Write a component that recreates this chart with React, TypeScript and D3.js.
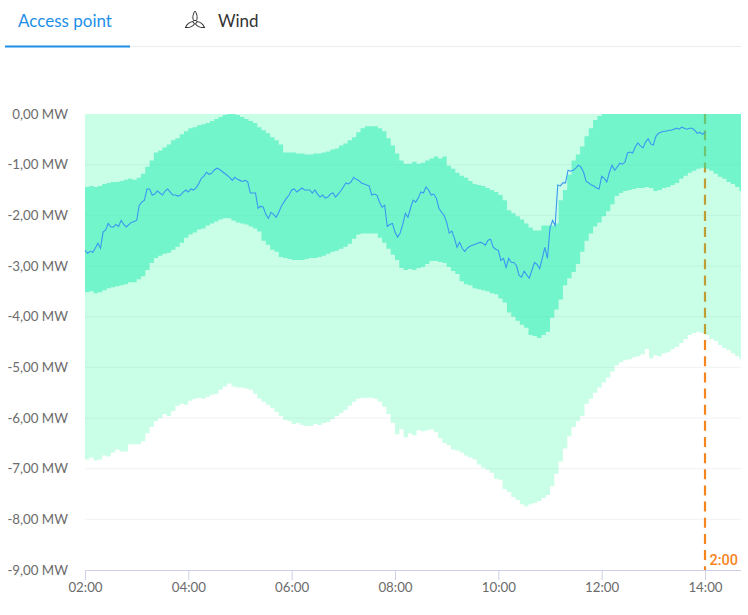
import { useEffect, useRef } from 'react';
import * as d3 from 'd3';

const WIDTH = 748;
const HEIGHT = 615;

const tabs = ['Access point', 'Wind'];
const markerLabel = '2:00';
const yTicks = [0, -1, -2, -3, -4, -5, -6, -7, -8, -9];
const xTicks = [2, 4, 6, 8, 10, 12, 14];

// forecast bands, one value every 5 minutes from 02:00
const innerTop = [
  -1.44, -1.42, -1.44, -1.42, -1.38, -1.36, -1.34, -1.34, -1.32, -1.3, -1.28, -1.3,
  -1.26, -1.18, -1.04, -0.92, -0.76, -0.72, -0.66, -0.6, -0.52, -0.48, -0.4, -0.34,
  -0.28, -0.26, -0.22, -0.2, -0.18, -0.14, -0.1, -0.06, -0.02, 0, 0, -0.02,
  -0.06, -0.1, -0.14, -0.18, -0.26, -0.32, -0.38, -0.46, -0.52, -0.6, -0.76, -0.76,
  -0.76, -0.78, -0.78, -0.8, -0.8, -0.78, -0.78, -0.76, -0.74, -0.7, -0.68, -0.62,
  -0.58, -0.52, -0.46, -0.36, -0.28, -0.24, -0.24, -0.24, -0.28, -0.34, -0.48, -0.62,
  -0.78, -0.92, -0.98, -0.98, -0.94, -0.98, -0.96, -0.92, -0.88, -0.84, -0.88, -0.84,
  -1.02, -1.08, -1.16, -1.22, -1.26, -1.32, -1.38, -1.4, -1.42, -1.46, -1.5, -1.54,
  -1.6, -1.7, -1.9, -1.96, -2.02, -2.08, -2.16, -2.24, -2.3, -2.3, -2.2, -2.2,
  -2.2, -2.16, -1.7, -1.5, -1.2, -0.92, -0.8, -0.64, -0.44, -0.28, -0.12, -0.04,
  0, 0, 0, 0, 0, 0, 0, 0, 0, 0, 0, 0,
  0, 0, 0, 0, 0, 0, 0, 0, 0, 0, 0, 0,
  0, 0, 0, 0, 0, 0, 0, 0, 0, 0,
];

const innerBottom = [
  -3.52, -3.5, -3.54, -3.52, -3.48, -3.44, -3.42, -3.4, -3.38, -3.36, -3.32, -3.32,
  -3.26, -3.2, -3.08, -2.94, -2.84, -2.8, -2.76, -2.74, -2.68, -2.62, -2.54, -2.44,
  -2.38, -2.34, -2.28, -2.26, -2.2, -2.16, -2.12, -2.08, -2.06, -2.06, -2.1, -2.14,
  -2.16, -2.18, -2.22, -2.26, -2.32, -2.5, -2.58, -2.68, -2.72, -2.82, -2.84, -2.86,
  -2.88, -2.88, -2.88, -2.86, -2.84, -2.84, -2.82, -2.8, -2.76, -2.72, -2.7, -2.66,
  -2.62, -2.56, -2.46, -2.38, -2.36, -2.36, -2.36, -2.36, -2.44, -2.54, -2.66, -2.78,
  -2.88, -3.04, -3.08, -3.06, -3.08, -3.04, -3.02, -2.96, -2.9, -2.9, -2.92, -2.94,
  -3.02, -3.1, -3.16, -3.3, -3.36, -3.38, -3.44, -3.46, -3.48, -3.5, -3.54, -3.56,
  -3.64, -3.72, -3.92, -4.0, -4.08, -4.16, -4.22, -4.36, -4.38, -4.42, -4.36, -4.3,
  -4.02, -3.86, -3.66, -3.38, -3.24, -3.12, -2.96, -2.72, -2.5, -2.36, -2.22, -2.14,
  -2.02, -1.92, -1.78, -1.62, -1.56, -1.52, -1.5, -1.48, -1.46, -1.46, -1.44, -1.46,
  -1.52, -1.5, -1.46, -1.44, -1.4, -1.36, -1.28, -1.22, -1.16, -1.12, -1.08, -1.06,
  -1.08, -1.12, -1.18, -1.24, -1.28, -1.34, -1.38, -1.44, -1.52, -1.54,
];

const outerBottom = [
  -6.82, -6.78, -6.84, -6.82, -6.74, -6.76, -6.68, -6.62, -6.66, -6.66, -6.52, -6.52,
  -6.52, -6.46, -6.3, -6.18, -6.06, -6.0, -5.92, -5.96, -5.86, -5.76, -5.72, -5.74,
  -5.66, -5.62, -5.6, -5.62, -5.58, -5.54, -5.52, -5.44, -5.38, -5.32, -5.38, -5.4,
  -5.4, -5.42, -5.44, -5.52, -5.62, -5.68, -5.74, -5.8, -5.88, -5.96, -6.04, -6.06,
  -6.12, -6.1, -6.14, -6.16, -6.16, -6.12, -6.14, -6.1, -6.08, -6.02, -5.96, -5.9,
  -5.84, -5.76, -5.68, -5.62, -5.6, -5.6, -5.6, -5.62, -5.68, -5.78, -5.92, -6.1,
  -6.32, -6.22, -6.38, -6.3, -6.34, -6.24, -6.26, -6.24, -6.22, -6.28, -6.4, -6.5,
  -6.54, -6.62, -6.64, -6.68, -6.74, -6.78, -6.82, -6.92, -6.98, -7.02, -7.08, -7.2,
  -7.22, -7.4, -7.46, -7.56, -7.62, -7.7, -7.74, -7.7, -7.68, -7.64, -7.58, -7.52,
  -7.34, -7.1, -6.86, -6.6, -6.36, -6.18, -6.06, -5.96, -5.72, -5.62, -5.5, -5.4,
  -5.3, -5.2, -5.08, -4.96, -4.9, -4.86, -4.84, -4.8, -4.78, -4.74, -4.64, -4.82,
  -4.76, -4.78, -4.72, -4.7, -4.64, -4.6, -4.52, -4.44, -4.36, -4.32, -4.3, -4.32,
  -4.36, -4.44, -4.48, -4.56, -4.62, -4.66, -4.72, -4.78, -4.84, -4.88,
];

// measured power, one value every 3 minutes from 02:00 to 14:00
const measured = [
  -2.69, -2.75, -2.71, -2.73, -2.65, -2.55, -2.65, -2.33, -2.29, -2.16, -2.23, -2.23, -2.18, -2.22, -2.1, -2.18, -2.23, -2.18, -2.14, -2.12,
  -2.1, -1.8, -1.74, -1.7, -1.48, -1.48, -1.6, -1.58, -1.52, -1.56, -1.6, -1.52, -1.48, -1.54, -1.6, -1.6, -1.62, -1.6, -1.54, -1.5,
  -1.54, -1.48, -1.5, -1.46, -1.38, -1.27, -1.23, -1.15, -1.19, -1.17, -1.11, -1.07, -1.09, -1.13, -1.17, -1.21, -1.25, -1.31, -1.25, -1.29,
  -1.31, -1.33, -1.31, -1.34, -1.56, -1.56, -1.56, -1.86, -1.82, -1.84, -1.98, -2.06, -1.94, -1.98, -2.04, -1.94, -1.82, -1.74, -1.66, -1.6,
  -1.5, -1.48, -1.54, -1.5, -1.46, -1.5, -1.5, -1.5, -1.56, -1.5, -1.58, -1.64, -1.6, -1.66, -1.64, -1.58, -1.56, -1.64, -1.58, -1.52,
  -1.44, -1.36, -1.38, -1.34, -1.25, -1.29, -1.31, -1.36, -1.38, -1.4, -1.42, -1.6, -1.58, -1.6, -1.74, -1.84, -1.8, -2.22, -2.18, -2.16,
  -2.33, -2.43, -2.35, -2.18, -1.96, -2.04, -1.86, -1.7, -1.74, -1.66, -1.54, -1.56, -1.44, -1.5, -1.6, -1.58, -1.66, -1.86, -1.94, -2.0,
  -2.14, -2.35, -2.31, -2.45, -2.63, -2.53, -2.65, -2.71, -2.65, -2.61, -2.59, -2.57, -2.55, -2.53, -2.55, -2.59, -2.49, -2.47, -2.63, -2.67,
  -2.69, -2.89, -2.85, -3.03, -2.85, -2.93, -2.93, -2.99, -3.18, -3.22, -3.1, -3.18, -3.24, -3.08, -2.93, -2.97, -3.05, -2.85, -2.63, -2.85,
  -2.25, -2.1, -2.2, -1.4, -1.42, -1.36, -1.36, -1.11, -1.13, -1.11, -1.07, -1.01, -1.05, -1.15, -1.33, -1.36, -1.4, -1.42, -1.46, -1.48,
  -1.23, -1.27, -1.34, -1.15, -1.01, -1.11, -1.05, -0.97, -0.99, -0.95, -0.77, -0.75, -0.77, -0.65, -0.57, -0.63, -0.67, -0.55, -0.49, -0.59,
  -0.61, -0.44, -0.38, -0.36, -0.34, -0.34, -0.32, -0.32, -0.3, -0.28, -0.3, -0.26, -0.28, -0.3, -0.28, -0.28, -0.32, -0.38, -0.36, -0.4,
  -0.36,
];

const markerHour = 14;

const locale = d3.formatLocale({
  decimal: ',',
  thousands: '.',
  grouping: [3],
  currency: ['', ' MW'],
  minus: '-',
});
const formatMw = locale.format('.2f');

export default function App() {
  const svgRef = useRef<SVGSVGElement>(null);

  useEffect(() => {
    if (!svgRef.current) return;

    const svg = d3.select(svgRef.current);
    svg.selectAll('*').remove();

    const left = 85;
    const right = 741;
    const top = 114;
    const bottom = 570;

    const x = d3.scaleLinear().domain([2, 14]).range([85, 705]);
    const y = d3.scaleLinear().domain([0, -9]).range([top, bottom]);

    svg
      .append('defs')
      .append('clipPath')
      .attr('id', 'plot')
      .append('rect')
      .attr('x', left)
      .attr('y', top)
      .attr('width', right - left)
      .attr('height', bottom - top);

    // Tabs
    const tabFont = 'Lato, sans-serif';
    svg
      .append('line')
      .attr('x1', 5)
      .attr('x2', right)
      .attr('y1', 46.5)
      .attr('y2', 46.5)
      .attr('stroke', '#ececf0')
      .attr('stroke-width', 1);
    svg
      .append('line')
      .attr('x1', 5)
      .attr('x2', 130)
      .attr('y1', 46.5)
      .attr('y2', 46.5)
      .attr('stroke', '#1e8fe8')
      .attr('stroke-width', 2);
    svg
      .append('text')
      .attr('x', 18)
      .attr('y', 27)
      .attr('font-family', tabFont)
      .attr('font-size', 17)
      .attr('fill', '#1e8fe8')
      .text(tabs[0]);
    svg
      .append('text')
      .attr('x', 218)
      .attr('y', 27)
      .attr('font-family', tabFont)
      .attr('font-size', 17)
      .attr('fill', '#333')
      .text(tabs[1]);

    // Wind icon, one blade rotated three times
    const icon = svg.append('g').attr('transform', 'translate(195,22)');
    [0, 120, 240].forEach((angle) => {
      icon
        .append('path')
        .attr('d', 'M-1.5,-1.5 C-3,-5 -1.5,-9 0,-11 C1.5,-9 3,-5 1.5,-1.5 Z')
        .attr('transform', `rotate(${angle})`)
        .attr('fill', 'none')
        .attr('stroke', '#333')
        .attr('stroke-width', 1);
    });

    // Grid
    svg
      .append('g')
      .selectAll('line')
      .data(yTicks.slice(1, -1))
      .enter()
      .append('line')
      .attr('x1', left)
      .attr('x2', right)
      .attr('y1', (d) => y(d))
      .attr('y2', (d) => y(d))
      .attr('stroke', '#f2f2f6')
      .attr('stroke-width', 1);

    // Marker goes under the bands, they tint the upper part of it
    svg
      .append('line')
      .attr('x1', x(markerHour))
      .attr('x2', x(markerHour))
      .attr('y1', top)
      .attr('y2', bottom)
      .attr('stroke', '#f5851e')
      .attr('stroke-width', 2.2)
      .attr('stroke-dasharray', '10 6.15');

    const plot = svg.append('g').attr('clip-path', 'url(#plot)');

    const outerArea = d3
      .area<number>()
      .x((_, i) => x(2 + i / 12))
      .y0((d) => y(d))
      .y1(() => y(0))
      .curve(d3.curveStepAfter);

    const innerArea = d3
      .area<number>()
      .x((_, i) => x(2 + i / 12))
      .y0((d) => y(d))
      .y1((_, i) => y(innerTop[i]))
      .curve(d3.curveStepAfter);

    plot
      .append('path')
      .attr('d', outerArea(outerBottom))
      .attr('fill', 'rgb(0,250,140)')
      .attr('fill-opacity', 0.21);
    plot
      .append('path')
      .attr('d', innerArea(innerBottom))
      .attr('fill', 'rgb(30,235,175)')
      .attr('fill-opacity', 0.5);

    const line = d3
      .line<number>()
      .x((_, i) => x(2 + i / 20))
      .y((d) => y(d));
    plot
      .append('path')
      .attr('d', line(measured))
      .attr('fill', 'none')
      .attr('stroke', '#3a97f0')
      .attr('stroke-width', 1.1);

    // Axes
    const axisFont = 'Lato, sans-serif';
    svg
      .append('g')
      .selectAll('text')
      .data(yTicks)
      .enter()
      .append('text')
      .attr('x', 68)
      .attr('y', (d) => y(d) + 4.5)
      .attr('text-anchor', 'end')
      .attr('font-family', axisFont)
      .attr('font-size', 13.3)
      .attr('fill', '#6b6b6b')
      .text((d) => `${formatMw(d)} MW`);

    const xAxis = svg
      .append('g')
      .attr('transform', `translate(0,${bottom})`)
      .call(
        d3
          .axisBottom(x)
          .tickValues(xTicks)
          .tickSize(10)
          .tickSizeOuter(0)
          .tickPadding(2.5)
          .tickFormat((d) => `${String(d).padStart(2, '0')}:00`),
      );
    xAxis.select('.domain').attr('d', `M${left},0.5H${right}`).attr('stroke', '#cdd0e6');
    xAxis.selectAll('.tick line').attr('stroke', '#cdd0e6');
    xAxis
      .selectAll('.tick text')
      .attr('font-family', axisFont)
      .attr('font-size', 13.3)
      .attr('fill', '#6b6b6b');

    svg
      .append('text')
      .attr('x', 709.5)
      .attr('y', 564.5)
      .attr('font-family', 'Roboto, sans-serif')
      .attr('font-size', 14.5)
      .attr('font-weight', 500)
      .attr('fill', '#f5851e')
      .text(markerLabel);
  }, []);

  return (
    <svg
      ref={svgRef}
      width={WIDTH}
      height={HEIGHT}
      viewBox={`0 0 ${WIDTH} ${HEIGHT}`}
      style={{ position: 'absolute', left: 0, top: 0, background: '#fff' }}
    />
  );
}
